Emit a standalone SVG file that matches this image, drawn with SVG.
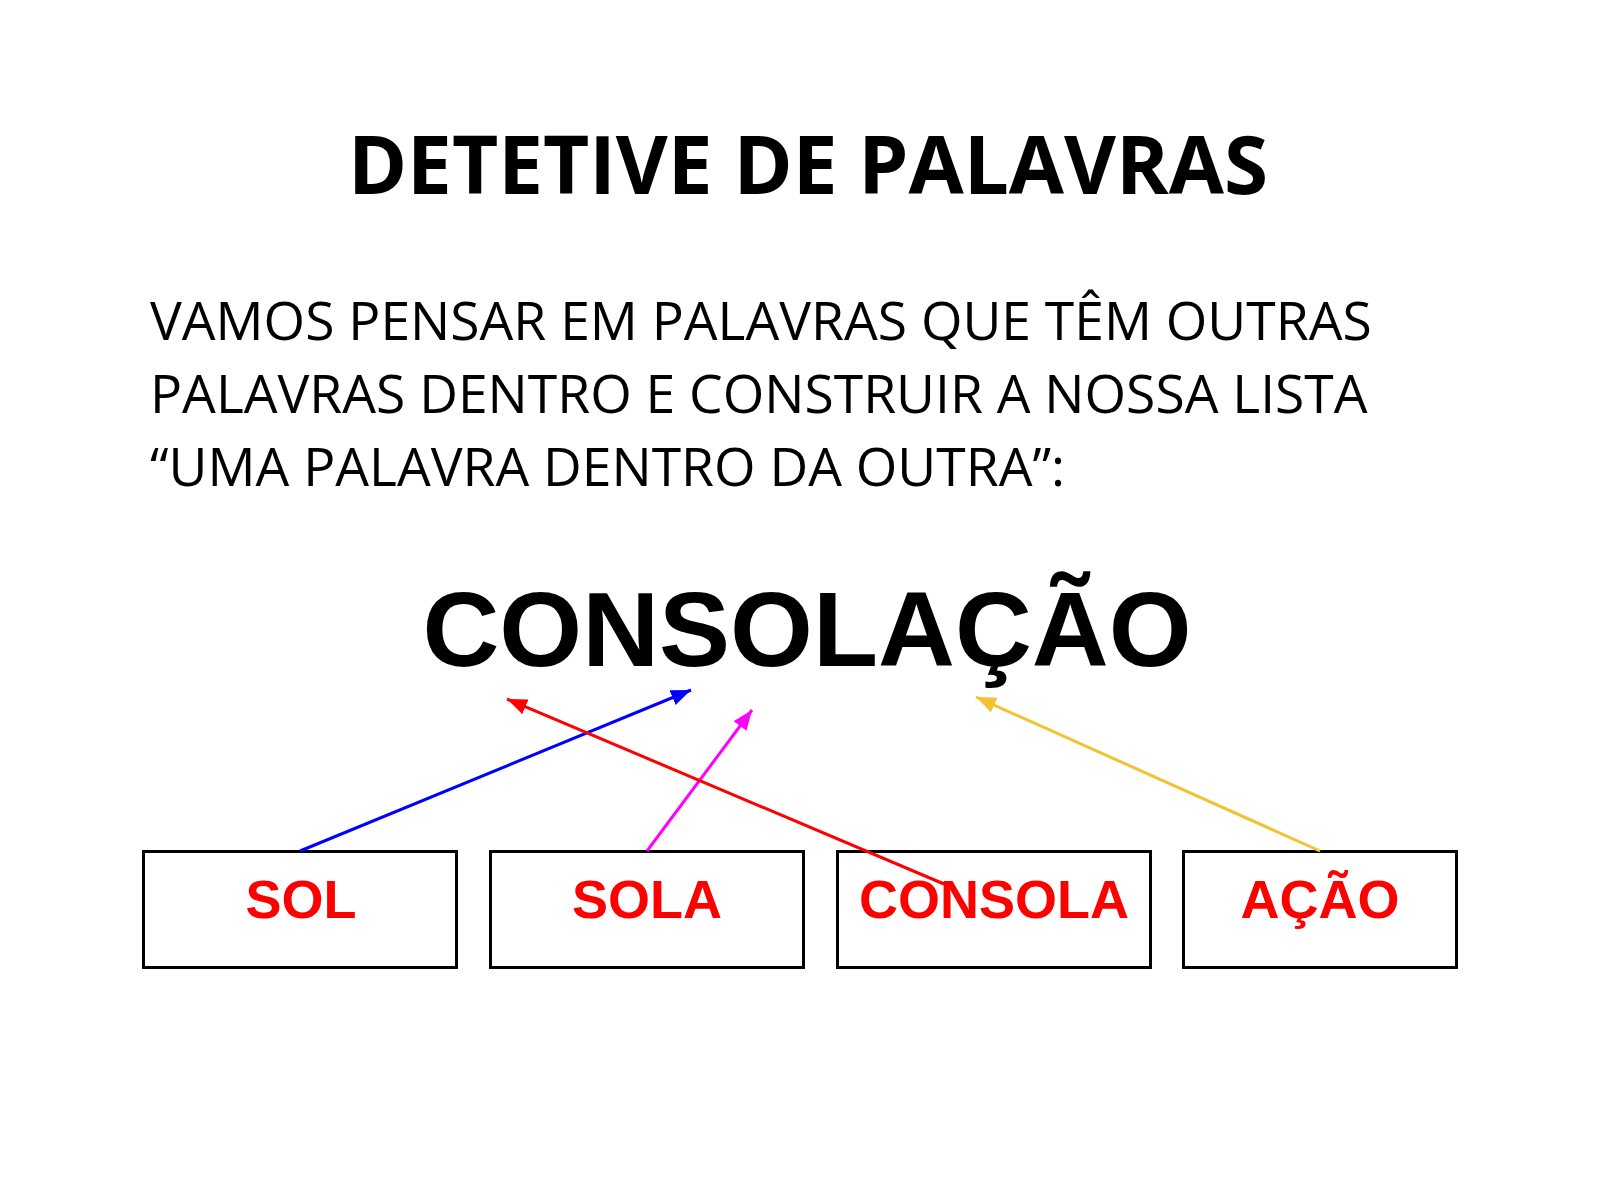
<svg xmlns="http://www.w3.org/2000/svg" width="1600" height="1200" viewBox="0 0 1600 1200">
<style>
.title{font-family:"Open Sans","DejaVu Sans",sans-serif;font-weight:700;font-size:80px;fill:#000}
.para{font-family:"Open Sans","DejaVu Sans",sans-serif;font-weight:400;font-size:53.4px;fill:#000}
.big{font-family:"Liberation Sans",Arial,sans-serif;font-weight:700;font-size:106.5px;fill:#000}
.box rect{fill:#fff;stroke:#000;stroke-width:3}
.box text{font-family:"Liberation Sans",Arial,sans-serif;font-weight:700;font-size:54px;fill:#ff0000;text-anchor:middle}
.conn line{stroke-width:3;fill:none}
</style>
<defs>
<marker id="ab" markerUnits="userSpaceOnUse" markerWidth="22" markerHeight="18" refX="20" refY="8" orient="auto"><path d="M0,0 L20,8 L0,16 z" fill="#0000ff"/></marker>
<marker id="am" markerUnits="userSpaceOnUse" markerWidth="22" markerHeight="18" refX="20" refY="8" orient="auto"><path d="M0,0 L20,8 L0,16 z" fill="#ff00ff"/></marker>
<marker id="ar" markerUnits="userSpaceOnUse" markerWidth="22" markerHeight="18" refX="20" refY="8" orient="auto"><path d="M0,0 L20,8 L0,16 z" fill="#ff0000"/></marker>
<marker id="ay" markerUnits="userSpaceOnUse" markerWidth="22" markerHeight="18" refX="20" refY="8" orient="auto"><path d="M0,0 L20,8 L0,16 z" fill="#f1c232"/></marker>
</defs>
<rect width="1600" height="1200" fill="#fff"/>
<g id="title"><text class="title" x="808" y="194" text-anchor="middle">DETETIVE DE PALAVRAS</text></g>
<g id="paragraph">
<text class="para" x="150" y="340">VAMOS PENSAR EM PALAVRAS QUE TÊM OUTRAS</text>
<text class="para" x="150" y="413">PALAVRAS DENTRO E CONSTRUIR A NOSSA LISTA</text>
<text class="para" x="150" y="486">“UMA PALAVRA DENTRO DA OUTRA”:</text>
</g>
<g id="word"><text class="big" x="807" y="666" text-anchor="middle">CONSOLAÇÃO</text></g>
<g id="box-sol" class="box"><rect x="143.5" y="851.5" width="313" height="116"/><text x="301" y="918">SOL</text></g>
<g id="box-sola" class="box"><rect x="490.5" y="851.5" width="313" height="116"/><text x="647" y="918">SOLA</text></g>
<g id="box-consola" class="box"><rect x="837.5" y="851.5" width="313" height="116"/><text x="994" y="918">CONSOLA</text></g>
<g id="box-acao" class="box"><rect x="1183.5" y="851.5" width="273" height="116"/><text x="1320" y="918">AÇÃO</text></g>
<g id="connectors" class="conn">
<line x1="300" y1="851" x2="691" y2="690" stroke="#0000ff" marker-end="url(#ab)"/>
<line x1="647" y1="851" x2="752" y2="710" stroke="#ff00ff" marker-end="url(#am)"/>
<line x1="944" y1="884" x2="507" y2="699" stroke="#ff0000" marker-end="url(#ar)"/>
<line x1="1320" y1="851" x2="976" y2="697" stroke="#f1c232" marker-end="url(#ay)"/>
</g>
</svg>
